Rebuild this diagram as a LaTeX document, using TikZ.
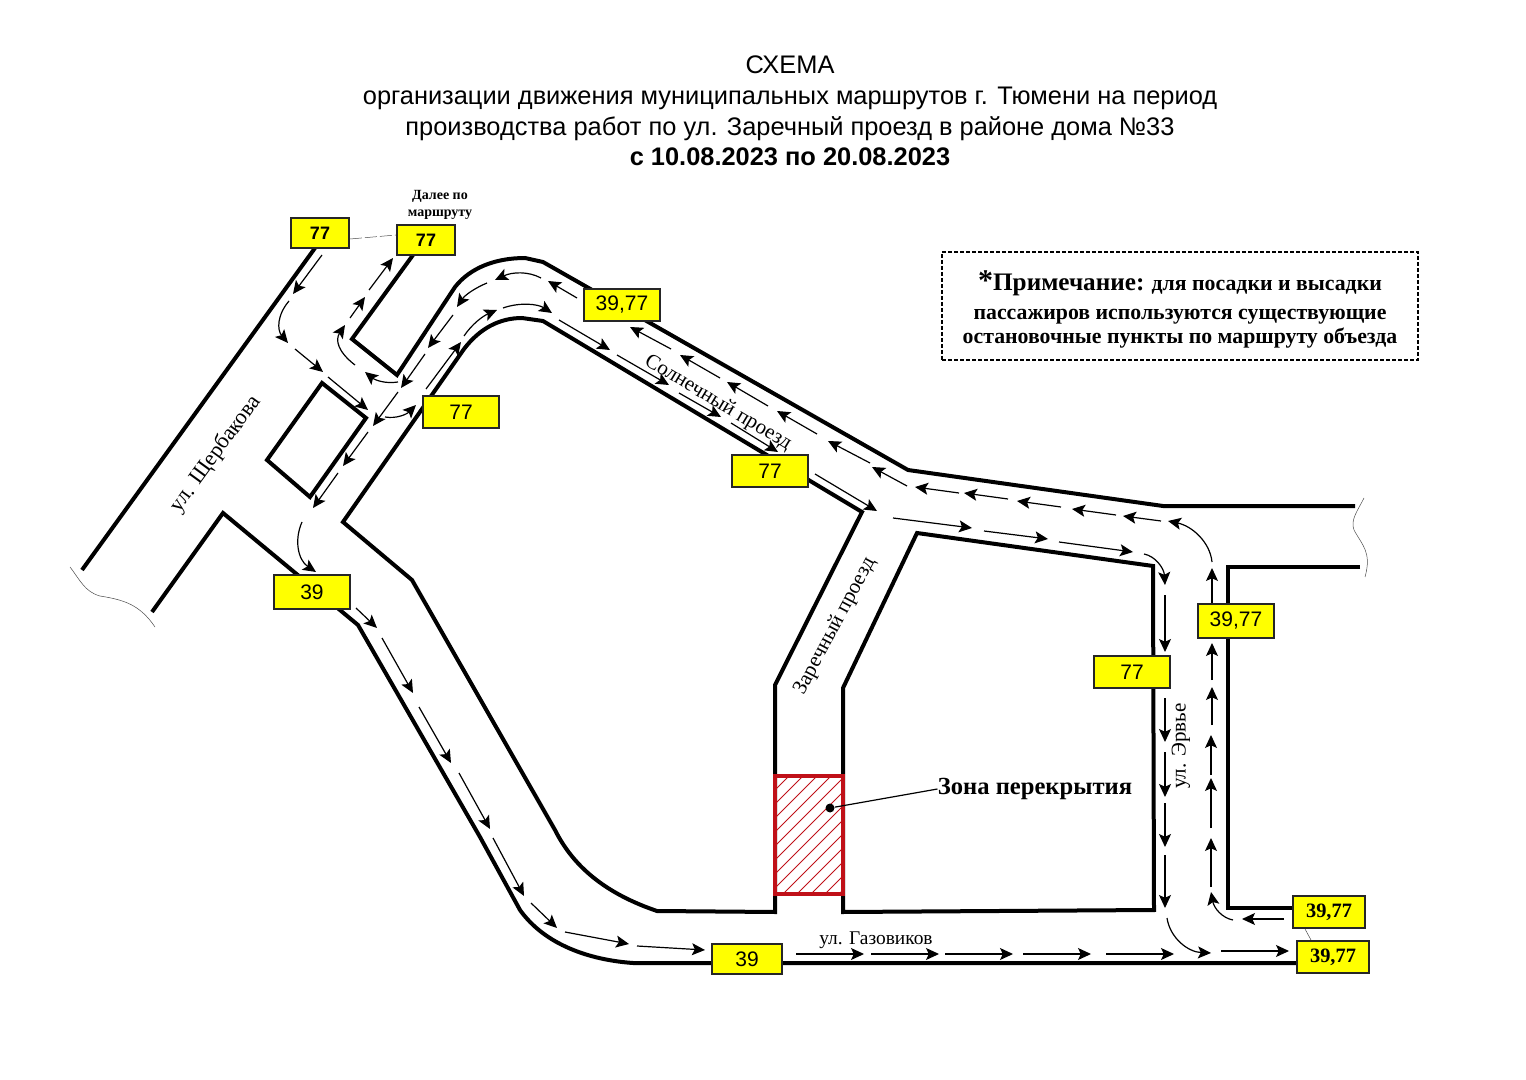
\documentclass[tikz,border=0pt]{standalone}
\usepackage{fontspec}
\setmainfont{Liberation Sans}
\newfontfamily\timesfont{Liberation Serif}
\usetikzlibrary{arrows.meta,calc}

\definecolor{signyellow}{RGB}{255,255,0}
\definecolor{zonered}{RGB}{192,16,24}

\tikzset{
	road/.style={line width=2pt,line join=miter},
	lane/.style={-{Stealth[length=6.5pt,width=6pt,inset=1.4pt]},line width=0.6pt},
	cutmark/.style={line width=0.25pt,color=black!70},
	signbox/.style={draw=black!85,fill=signyellow,line width=1pt,inner sep=0pt,font=\fontsize{10.5}{12}\selectfont},
	signsmall/.style={signbox,font=\fontsize{9}{11}\selectfont\bfseries},
	signserif/.style={signbox,font=\fontsize{10.2}{12}\selectfont\timesfont\bfseries},
	streetname/.style={font=\fontsize{10.5}{12}\selectfont\timesfont,inner sep=0pt}
}

\begin{document}
\begin{tikzpicture}[x=0.5pt,y=-0.5pt]

\useasboundingbox (0,0) rectangle (1526,1080);

\node (title) at (790,111) [align=center,font=\fontsize{12.7}{15.3}\selectfont] {СХЕМА\\
организации движения муниципальных маршрутов г. Тюмени на период\\
производства работ по ул. Заречный проезд в районе дома №33\\
\textbf{с 10.08.2023 по 20.08.2023}};

% roads
\draw[road] (82,570)--(315,248);
\draw[road] (152,612)--(223,513)--(358,625)--(480,837)--(520,910) .. controls (545,945) and (590,960) .. (633,963)--(1298,963);
\draw[road] (343,522)--(464,349) .. controls (480,328) and (500,318) .. (522,318)--(543,321)--(862,512)--(775,685)--(775,912)--(657,911) .. controls (610,895) and (575,870) .. (555,830)--(412,580)--cycle;
\draw[road] (413,255)--(352,339)--(397,375)--(455,287) .. controls (470,268) and (495,258) .. (525,258)--(543,262)--(908,470)--(1163,506)--(1355,506);
\draw[road] (322,383)--(366,418)--(310,497)--(267,460)--cycle;
\draw[road] (917,533)--(1153,566)--(1154,910)--(843,912)--(843,688)--cycle;
\draw[road] (1360,567)--(1228,567)--(1228,908)--(1295,908);

\draw[cutmark] (70,567) .. controls (80,580) and (85,592) .. (100,596) .. controls (125,600) and (140,605) .. (155,627);
\draw[cutmark] (1364,498) .. controls (1358,510) and (1350,520) .. (1354,530) .. controls (1362,545) and (1372,552) .. (1365,577);

% closed zone
\begin{scope}
	\clip (775,776) rectangle (843,894);
	\foreach \x in {0,14,...,196}{
		\draw[color=zonered,line width=0.45pt] ({657+\x},894)--({775+\x},776);
	}
\end{scope}
\draw[color=zonered,line width=1.8pt] (775,776) rectangle (843,894);

% lanes
\foreach \xa/\ya/\xb/\yb in {322/255/293/294,295/349/323/372,328/377/368/410,
	350/318/365/297,369/290/393/258,
	453/315/428/348,425/354/401/388,398/392/373/426,368/432/343/466,338/473/313/508,
	426/389/461/342,
	577/298/548/281,671/349/630/327,720/378/680/355,768/406/727/382,817/434/777/411,870/463/828/441,907/486/872/467,
	559/320/610/350,617/355/669/385,679/393/721/417,731/423/778/452,815/474/877/511,
	893/518/972/528,984/531/1048/539,1059/542/1133/552,
	959/493/915/487,1008/499/964/493,1061/507/1017/501,1116/515/1072/509,1161/521/1123/516,
	1165/595/1165/652,1165/698/1165/742,1165/752/1165/797,1165/803/1165/847,1165/855/1165/908,
	1212/603/1212/568,1212/680/1212/643,1212/725/1212/687,1211/775/1211/735,1211/828/1211/778,1211/887/1211/838,
	1284/919/1242/919,1221/951/1289/951,
	1106/954/1174/954,1023/954/1091/954,945/954/1013/954,871/954/939/954,796/954/864/954,
	637/946/705/950,565/932/629/944,531/903/557/928,493/838/524/896,459/773/490/829,419/707/451/763,382/638/413/693,356/608/377/628}{
	\draw[lane] (\xa,\ya)--(\xb,\yb);
}
\draw[lane] (289,301) .. controls (277,315) and (277,330) .. (288,343);
\draw[lane] (355,365) .. controls (338,352) and (335,340) .. (345,325);
\draw[lane] (398,382) .. controls (385,384) and (375,380) .. (365,372);
\draw[lane] (541,278) .. controls (528,271) and (512,272) .. (495,280);
\draw[lane] (487,283) .. controls (475,288) and (465,295) .. (457,307);
\draw[lane] (302,522) .. controls (294,540) and (298,560) .. (316,572);
\draw[lane] (385,417) .. controls (397,419) and (407,414) .. (416,405);
\draw[lane] (464,336) .. controls (472,324) and (483,316) .. (497,310);
\draw[lane] (503,308) .. controls (520,302) and (538,304) .. (552,313);
\draw[lane] (1144,554) .. controls (1155,556) and (1164,568) .. (1165,585);
\draw[lane] (1212,562) .. controls (1210,542) and (1192,526) .. (1168,521);
\draw[lane] (1233,920) .. controls (1222,918) and (1214,908) .. (1211,892);
\draw[lane] (1167,918) .. controls (1170,938) and (1188,952) .. (1211,953);

% signs
\node[signsmall,minimum width=29pt,minimum height=15pt] (signa) at (320,233) {77};
\node[signsmall,minimum width=29pt,minimum height=15pt] (signb) at (426,240) {77};
\node[signbox,minimum width=38pt,minimum height=16pt] (signc) at (461,412) {77};
\node[signbox,minimum width=38pt,minimum height=17pt] (signd) at (312,592) {39};
\node[signbox,minimum width=38pt,minimum height=16pt] (signe) at (622,305) {39,77};
\node[signbox,minimum width=38pt,minimum height=16pt] (signf) at (770,471) {77};
\node[signbox,minimum width=38pt,minimum height=17pt] (signg) at (1236,621) {39,77};
\node[signbox,minimum width=38pt,minimum height=16pt] (signh) at (1132,672) {77};
\node[signserif,minimum width=36pt,minimum height=16pt] (signi) at (1329,912) {39,77};
\node[signserif,minimum width=36pt,minimum height=16pt] (signj) at (1333,957) {39,77};
\node[signbox,minimum width=35pt,minimum height=15pt] (signk) at (747,959) {39};

\draw[cutmark,dash pattern=on 6pt off 1.5pt] ($(signa.east)+(0,6)$) -- ($(signb.west)+(0,-5)$);
\draw[cutmark] ($(signi.south west)+(13,0)$) -- ($(signj.north west)+(15,0)$);

% street names
\node[streetname,rotate=54,font=\fontsize{11}{12}\selectfont\timesfont] (shcherbakova) at (216,454) {ул. Щербакова};
\node[streetname,rotate=-31] (solnechny) at (718,403) {Солнечный проезд};
\node[streetname,rotate=62] (zarechny) at (835,626) {Заречный проезд};
\node[streetname,rotate=90] (ervie) at (1181,746) {ул. Эрвье};
\node[streetname,font=\fontsize{9.7}{11}\selectfont\timesfont] (gazovikov) at (876,940) {ул. Газовиков};

\node[align=center,font=\fontsize{7}{8.5}\selectfont\timesfont\bfseries,inner sep=0pt] (further) at (440,205) {Далее по\\маршруту};

\node[font=\fontsize{12.3}{13}\selectfont\timesfont\bfseries,inner sep=0pt] (zonelabel) at (1035,789) {Зона перекрытия};
\node[fill=black,circle,inner sep=0pt,minimum size=4.5pt] (zonedot) at (830,808) {};
\draw[line width=0.6pt] (zonedot) -- (zonelabel.west);

\node[draw,dash pattern=on 2pt off 1pt,line width=1pt,minimum width=238pt,minimum height=54pt] (notebox) at (1180,306) {};
\node[align=center,inner sep=0pt,font=\fontsize{10.9}{12}\selectfont\timesfont\bfseries] (note) at (1180,309.5)
	{{\fontsize{15}{15}\selectfont *}{\fontsize{12.6}{14}\selectfont Примечание:} для посадки и высадки\\[2.5pt]
	пассажиров используются существующие\\
	остановочные пункты по маршруту объезда};

\end{tikzpicture}
\end{document}
